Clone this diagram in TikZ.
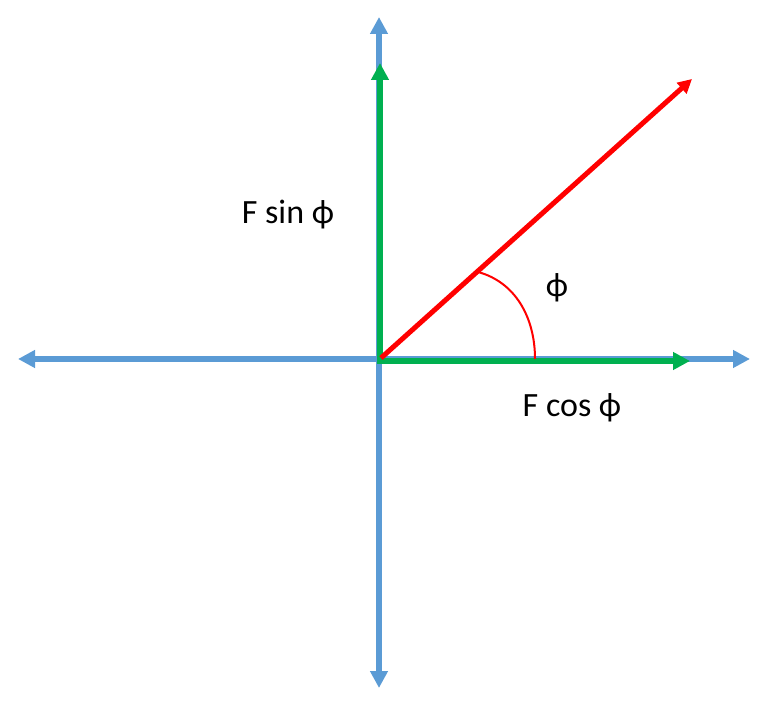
\documentclass[tikz,border=0pt]{standalone}
\usepackage{fontspec}
\setmainfont{Carlito}
\usetikzlibrary{arrows.meta}
\definecolor{axblue}{RGB}{91,155,213}
\definecolor{cgreen}{RGB}{0,176,80}
\definecolor{cred}{RGB}{255,0,0}
\tikzset{
  axis/.style={draw=axblue, line width=6pt, -{Triangle[length=17pt,width=17pt]}},
  comp/.style={draw=cgreen, line width=6pt, -{Triangle[length=17pt,width=17pt]}},
  force/.style={draw=cred, line width=5pt, -{Triangle[length=14pt,width=14pt]}},
  anglearc/.style={draw=cred, line width=2pt},
  lbl/.style={font=\fontsize{34}{40}\selectfont, inner sep=0pt}
}
\begin{document}
\begin{tikzpicture}[x=1pt,y=1pt]
\useasboundingbox (0,0) rectangle (768,707);
\coordinate (O) at (379,348);
\coordinate (L) at (18,348);
\coordinate (R) at (750,348);
\coordinate (T) at (379,690);
\coordinate (B) at (379,19);
\coordinate (Og) at (380,346);
\coordinate (Ogv) at (380,343);
\coordinate (GR) at (690,346);
\coordinate (GT) at (380,644);
\coordinate (Or) at (381,349);
\coordinate (F) at (692,628);
\coordinate (A1) at (478,435);
\coordinate (A2) at (535,348);
\draw[axis] (O) -- (L);
\draw[axis] (O) -- (R);
\draw[axis] (O) -- (T);
\draw[axis] (O) -- (B);
\draw[comp] (Og) -- (GR);
\draw[comp] (Ogv) -- (GT);
\draw[force] (Or) -- (F);
\draw[anglearc] (A1) .. controls (515,425) and (535,390) .. (A2);
\node[lbl] (fsin) at (288,492) {F sin ϕ};
\node[lbl] (phi) at (557,419) {ϕ};
\node[lbl] (fcos) at (572,299) {F cos ϕ};
\end{tikzpicture}
\end{document}
